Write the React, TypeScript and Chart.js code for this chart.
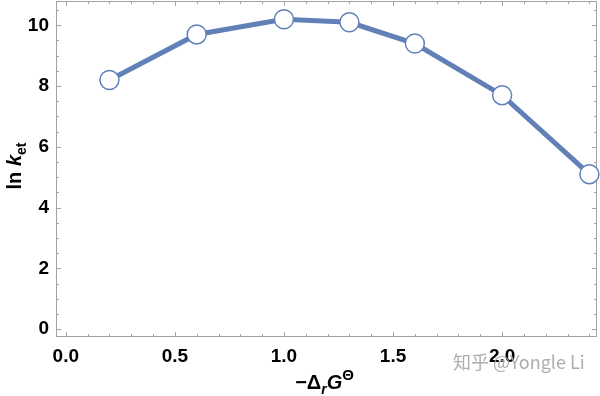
import React, { useEffect, useRef } from "react";
import { Chart, registerables } from "chart.js";

Chart.register(...registerables);

const xValues = [0.2, 0.6, 1.0, 1.3, 1.6, 2.0, 2.4];
const yValues = [8.2, 9.7, 10.2, 10.1, 9.4, 7.7, 5.1];
const xTickValues = [0, 0.5, 1, 1.5, 2];
const yTickValues = [0, 2, 4, 6, 8, 10];
const xMinorStep = 0.1;
const yMinorStep = 0.5;

const LINE = "#6080b7";
const FRAME = "#a3a3a3";
const FONT = "'Liberation Sans', Arial, sans-serif";

const framePlugin = {
  id: "frameTicks",
  beforeDatasetsDraw(chart: any) {
    const { ctx, chartArea: a, scales } = chart;
    const xs = scales.x;
    const ys = scales.y;
    ctx.save();
    ctx.strokeStyle = FRAME;
    ctx.lineWidth = 1;
    ctx.strokeRect(a.left + 0.5, a.top + 0.5, a.right - a.left - 1, a.bottom - a.top - 1);
    ctx.beginPath();
    const eps = 1e-6;
    for (let i = Math.ceil(xs.min / xMinorStep); i * xMinorStep <= xs.max + eps; i++) {
      const v = i * xMinorStep;
      const major = xTickValues.some((t) => Math.abs(t - v) < 1e-6);
      const len = major ? 5 : 3;
      const px = Math.round(xs.getPixelForValue(v)) + 0.5;
      ctx.moveTo(px, a.bottom);
      ctx.lineTo(px, a.bottom - len);
      ctx.moveTo(px, a.top);
      ctx.lineTo(px, a.top + len);
    }
    for (let i = Math.ceil(ys.min / yMinorStep); i * yMinorStep <= ys.max + eps; i++) {
      const v = i * yMinorStep;
      const major = yTickValues.some((t) => Math.abs(t - v) < 1e-6);
      const len = major ? 5 : 3;
      const py = Math.round(ys.getPixelForValue(v)) + 0.5;
      ctx.moveTo(a.left, py);
      ctx.lineTo(a.left + len, py);
      ctx.moveTo(a.right, py);
      ctx.lineTo(a.right - len, py);
    }
    ctx.stroke();
    ctx.restore();
  },
  afterDraw(chart: any) {
    const { ctx, chartArea: a } = chart;
    ctx.save();
    ctx.fillStyle = "#000";
    ctx.textBaseline = "alphabetic";
    const big = `bold 20px ${FONT}`;
    const bigI = `italic bold 20px ${FONT}`;
    const subI = `italic bold 14px ${FONT}`;
    const sup = `bold 15px ${FONT}`;
    const parts: [string, string, number][] = [
      ["−Δ", big, 0],
      ["r", subI, 5],
      ["G", bigI, 0],
      ["Θ", sup, -9],
    ];
    let total = 0;
    for (const [t, f] of parts) {
      ctx.font = f;
      total += ctx.measureText(t).width;
    }
    let x = (a.left + a.right) / 2 - total / 2 - 2;
    const base = 389;
    for (const [t, f, dy] of parts) {
      ctx.font = f;
      ctx.fillText(t, x, base + dy);
      x += ctx.measureText(t).width;
    }
    const yparts: [string, string, number][] = [
      ["ln ", big, 0],
      ["k", bigI, 0],
      ["et", `bold 14px ${FONT}`, 5],
    ];
    let ytotal = 0;
    for (const [t, f] of yparts) {
      ctx.font = f;
      ytotal += ctx.measureText(t).width;
    }
    ctx.translate(21, (a.top + a.bottom) / 2 - 3);
    ctx.rotate(-Math.PI / 2);
    let yx = -ytotal / 2;
    for (const [t, f, dy] of yparts) {
      ctx.font = f;
      ctx.fillText(t, yx, dy);
      yx += ctx.measureText(t).width;
    }
    ctx.restore();
    ctx.save();
    ctx.font = "18px 'Noto Sans CJK SC', 'Noto Sans', sans-serif";
    ctx.fillStyle = "rgba(165,165,165,0.9)";
    ctx.textBaseline = "alphabetic";
    ctx.fillText("知乎 @Yongle Li", 453, 369);
    ctx.restore();
  },
};

const zeroPad = (s: any) => {
  s.paddingTop = 0;
  s.paddingBottom = 0;
  s.paddingLeft = 0;
  s.paddingRight = 0;
};

export default function App() {
  const ref = useRef<HTMLCanvasElement>(null);
  useEffect(() => {
    if (!ref.current) return;
    const chart = new Chart(ref.current, {
      type: "scatter",
      data: {
        datasets: [
          {
            data: xValues.map((x, i) => ({ x, y: yValues[i] })),
            showLine: true,
            borderColor: LINE,
            borderWidth: 5,
            pointRadius: 9.5,
            pointBackgroundColor: "#ffffff",
            pointBorderColor: LINE,
            pointBorderWidth: 1.5,
            clip: false,
          },
        ],
      },
      options: {
        responsive: false,
        animation: false,
        devicePixelRatio: 1,
        layout: { autoPadding: false, padding: { left: 0, top: 1, right: 3, bottom: 0 } },
        plugins: { legend: { display: false }, tooltip: { enabled: false } },
        scales: {
          x: {
            type: "linear",
            min: -0.045,
            max: 2.435,
            grid: { display: false, drawTicks: false },
            border: { display: false },
            afterBuildTicks: (s: any) => {
              s.ticks = xTickValues.map((v) => ({ value: v }));
            },
            afterFit: (s: any) => {
              s.height = 59;
              zeroPad(s);
            },
            ticks: {
              padding: 8,
              color: "#000",
              font: { family: FONT, size: 19, weight: "bold" },
              callback: (v: any) => Number(v).toFixed(1),
            },
          },
          y: {
            type: "linear",
            min: -0.26,
            max: 10.8,
            grid: { display: false, drawTicks: false },
            border: { display: false },
            afterBuildTicks: (s: any) => {
              s.ticks = yTickValues.map((v) => ({ value: v }));
            },
            afterFit: (s: any) => {
              s.width = 56;
              zeroPad(s);
            },
            ticks: {
              padding: 7,
              color: "#000",
              font: { family: FONT, size: 19, weight: "bold" },
              callback: (v: any) => String(v),
            },
          },
        },
      } as any,
      plugins: [framePlugin],
    });
    return () => chart.destroy();
  }, []);
  return (
    <div style={{ position: "absolute", left: 0, top: 0, width: 600, height: 396, background: "#fff" }}>
      <canvas ref={ref} width={600} height={396} style={{ width: 600, height: 396, display: "block" }} />
    </div>
  );
}
